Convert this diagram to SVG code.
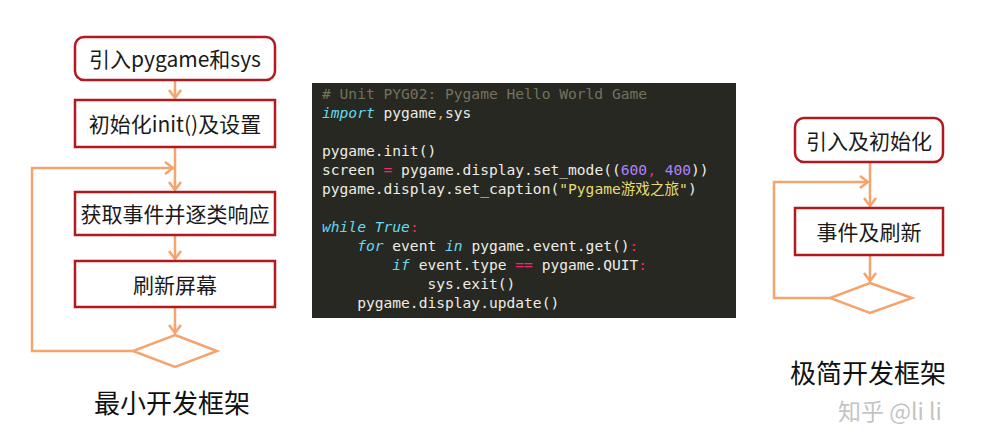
<svg xmlns="http://www.w3.org/2000/svg" width="983" height="444" viewBox="0 0 983 444">
<style>
.box{fill:#fff;stroke:#B2191E;stroke-width:2.5}
.lbl{font-family:"Noto Sans CJK SC","Open Sans",sans-serif;font-size:21px;fill:#1a1a1a;text-anchor:middle;dominant-baseline:central}
.cap{font-family:"Noto Sans CJK SC","Open Sans",sans-serif;font-size:26px;fill:#111;text-anchor:middle}
.con{fill:none;stroke:#F4A46C;stroke-width:2.5}
.code{font-family:"DejaVu Sans Mono","Noto Sans CJK SC",monospace;font-size:14.6px;fill:#EDEDE6;white-space:pre}
.cm{fill:#75715E}.kw{fill:#66D9EF;font-style:italic}.op{fill:#F92672}.num{fill:#AE81FF}.str{fill:#E6DB74}
</style>
<defs>
<marker id="ah" markerWidth="14" markerHeight="14" refX="11" refY="7" orient="auto" markerUnits="userSpaceOnUse">
<path d="M3,1 L11,7 L3,13" fill="none" stroke="#F4A46C" stroke-width="2.5"/>
</marker>
</defs>
<rect width="983" height="444" fill="#fff"/>

<g id="connectors">
<line class="con" x1="175" y1="80" x2="175" y2="98" marker-end="url(#ah)"/>
<line class="con" x1="175" y1="147" x2="175" y2="190" marker-end="url(#ah)"/>
<polyline class="con" points="133,351 32,351 32,168 173,168" marker-end="url(#ah)"/>
<line class="con" x1="175" y1="235" x2="175" y2="259" marker-end="url(#ah)"/>
<line class="con" x1="175" y1="307" x2="175" y2="333" marker-end="url(#ah)"/>
<line class="con" x1="870" y1="162" x2="870" y2="206" marker-end="url(#ah)"/>
<polyline class="con" points="830,298 774,298 774,182 868,182" marker-end="url(#ah)"/>
<line class="con" x1="870" y1="255" x2="870" y2="281" marker-end="url(#ah)"/>
</g>

<g id="l-import"><rect class="box" x="75" y="37" width="200" height="43" rx="9"/><text class="lbl" x="175" y="58">引入pygame和sys</text></g>
<g id="l-init"><rect class="box" x="75" y="100" width="200" height="47"/><text class="lbl" x="175" y="123">初始化init()及设置</text></g>
<g id="l-event"><rect class="box" x="75" y="192" width="200" height="43"/><text class="lbl" x="175" y="213">获取事件并逐类响应</text></g>
<g id="l-refresh"><rect class="box" x="75" y="261" width="200" height="46"/><text class="lbl" x="175" y="284">刷新屏幕</text></g>
<g id="l-diamond"><polygon class="con" points="175,335 217,351 175,367 133,351"/></g>
<g id="l-caption"><text class="cap" x="172" y="413">最小开发框架</text></g>

<g id="code">
<rect x="312" y="83" width="424" height="235" fill="#272822"/>
<text class="code" x="322" y="99"><tspan class="cm"># Unit PYG02: Pygame Hello World Game</tspan></text>
<text class="code" x="322" y="118"><tspan class="kw">import</tspan> pygame<tspan fill="#F6A04D">,</tspan>sys</text>
<text class="code" x="322" y="156">pygame.init()</text>
<text class="code" x="322" y="175">screen <tspan class="op">=</tspan> pygame.display.set_mode((<tspan class="num">600</tspan><tspan class="op">,</tspan> <tspan class="num">400</tspan>))</text>
<text class="code" x="322" y="194">pygame.display.set_caption(<tspan class="str">"Pygame游戏之旅"</tspan>)</text>
<text class="code" x="322" y="232"><tspan class="kw">while</tspan> <tspan class="kw">True</tspan><tspan class="op">:</tspan></text>
<text class="code" x="322" y="251">    <tspan class="kw">for</tspan> event <tspan class="kw">in</tspan> pygame.event.get()<tspan class="op">:</tspan></text>
<text class="code" x="322" y="270">        <tspan class="kw">if</tspan> event.type <tspan class="op">==</tspan> pygame.QUIT<tspan class="op">:</tspan></text>
<text class="code" x="322" y="289">            sys.exit()</text>
<text class="code" x="322" y="308">    pygame.display.update()</text>
</g>

<g id="r-init"><rect class="box" x="795" y="118" width="148" height="44" rx="9"/><text class="lbl" x="869" y="140">引入及初始化</text></g>
<g id="r-loop"><rect class="box" x="795" y="208" width="148" height="47"/><text class="lbl" x="869" y="231">事件及刷新</text></g>
<g id="r-diamond"><polygon class="con" points="870,283 912,298 870,313 830,298"/></g>
<g id="r-caption"><text class="cap" x="868" y="383">极简开发框架</text></g>
<text x="890" y="420" font-family="Noto Sans CJK SC,sans-serif" font-size="23" fill="#C4C4C4" text-anchor="middle">知乎 @li li</text>
</svg>
